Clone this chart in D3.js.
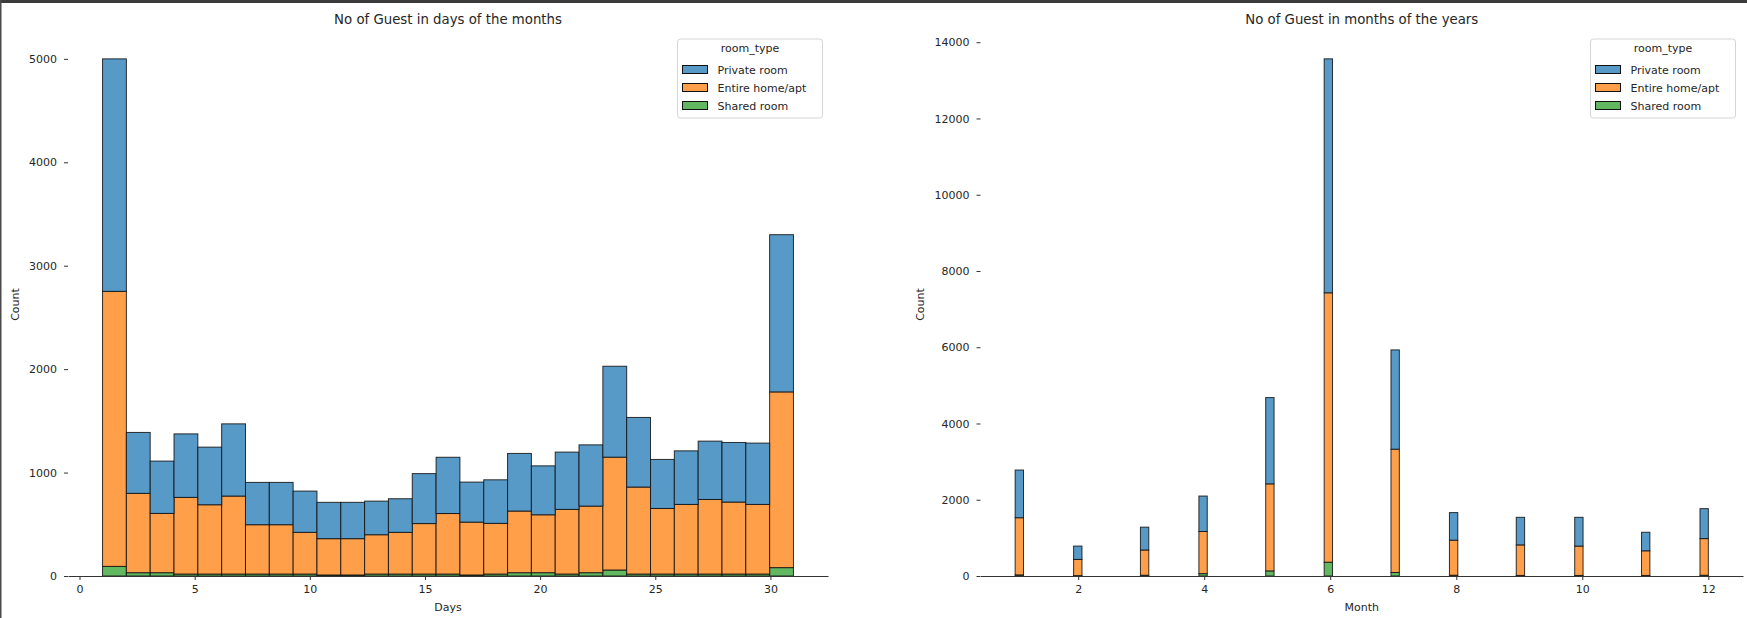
<!DOCTYPE html>
<html>
<head>
<meta charset="utf-8">
<script src="https://cdn.jsdelivr.net/npm/d3@7"></script>
<style>
  body { margin: 0; background: #fff; }
  svg { display: block; font-family: "DejaVu Sans", sans-serif; }
</style>
</head>
<body>
<svg id="chart" width="1747" height="618"></svg>
<script>
// room types, legend order (top of stack first)
const roomTypes = ["Private room", "Entire home/apt", "Shared room"];

// left panel: 29 histogram bins of day-of-month, from day 1 to day 31
const dayRange = [1, 31];
const dayBinCount = 29;
const dayPrivate = [2248, 589, 506, 614, 557, 698, 409, 409, 399, 351, 351, 325, 325, 483, 544,
                    387, 421, 557, 473, 554, 592, 879, 673, 474, 518, 564, 576, 593, 1520];
const dayEntire  = [2659, 767, 573, 741, 670, 754, 477, 477, 403, 351, 351, 380, 403, 488, 585,
                    511, 490, 596, 560, 625, 644, 1091, 841, 634, 673, 721, 696, 673, 1699];
const dayShared  = [93, 32, 32, 19, 19, 19, 19, 19, 19, 10, 10, 19, 19, 19, 19,
                    10, 19, 32, 32, 19, 32, 58, 19, 19, 19, 19, 19, 19, 81];
const dayTicksX = [0, 5, 10, 15, 20, 25, 30];
const dayTicksY = [0, 1000, 2000, 3000, 4000, 5000];

// right panel: months 1..12, histogram with 83 bins between 1 and 12
const months = [1, 2, 3, 4, 5, 6, 7, 8, 9, 10, 11, 12];
const monthRange = [1, 12];
const monthBinCount = 83;
const monthPrivate = [1250, 351, 599, 930, 2263, 6136, 2604, 723, 723, 754, 486, 786];
const monthEntire  = [1499, 424, 662, 1105, 2283, 7066, 3233, 920, 801, 770, 646, 961];
const monthShared  = [30, 10, 20, 62, 134, 362, 93, 20, 15, 15, 15, 20];
const monthTicksX = [2, 4, 6, 8, 10, 12];
const monthTicksY = [0, 2000, 4000, 6000, 8000, 10000, 12000, 14000];

const colors = {
  "Private room": "#5799c7",
  "Entire home/apt": "#ff9f4a",
  "Shared room": "#61b861"
};

const svg = d3.select("#chart");

// notebook frame
svg.append("rect").attr("x", 0).attr("y", 0).attr("width", 1747).attr("height", 3).attr("fill", "#3b3b3b");
svg.append("rect").attr("x", 0).attr("y", 0).attr("width", 1.5).attr("height", 618).attr("fill", "#4a4a4a");

const plotTop = 33, plotBottom = 576;

function drawPanel(cfg) {
  const g = svg.append("g");
  const x = d3.scaleLinear().domain(cfg.xDomain).range(cfg.xRange);
  const y = d3.scaleLinear().domain(cfg.yDomain).range([plotBottom, plotTop]);

  // stacked bars, shared at the bottom
  const stack = d3.stack().keys(["Shared room", "Entire home/apt", "Private room"]);
  const series = stack(cfg.rows);
  series.forEach(s => {
    g.append("g")
      .selectAll("rect")
      .data(s)
      .join("rect")
      .attr("x", d => x(d.data.x0))
      .attr("width", d => x(d.data.x1) - x(d.data.x0))
      .attr("y", d => y(d[1]))
      .attr("height", d => y(d[0]) - y(d[1]))
      .attr("fill", colors[s.key])
      .attr("stroke", "#111")
      .attr("stroke-width", 1)
      .attr("stroke-opacity", 0.85);
  });

  // axes
  const xa = g.append("g")
    .attr("transform", `translate(0,${plotBottom})`)
    .call(d3.axisBottom(x).tickValues(cfg.xTicks).tickFormat(d3.format("d"))
      .tickSize(4).tickSizeOuter(0).tickPadding(5));
  xa.select(".domain").attr("stroke", "#333").attr("stroke-width", 1);
  xa.selectAll(".tick line").attr("stroke", "#333");
  xa.selectAll("text").attr("font-size", 11).attr("fill", "#262626")
    .attr("font-family", "DejaVu Sans");

  const ya = g.append("g")
    .attr("transform", `translate(${cfg.xRange[0]},0)`)
    .call(d3.axisLeft(y).tickValues(cfg.yTicks).tickFormat(d3.format("d"))
      .tickSize(4).tickPadding(7));
  ya.select(".domain").remove();
  ya.selectAll(".tick line").attr("stroke", "#333");
  ya.selectAll("text").attr("font-size", 11).attr("fill", "#262626")
    .attr("font-family", "DejaVu Sans");

  const cx = (cfg.xRange[0] + cfg.xRange[1]) / 2;
  g.append("text").attr("x", cx).attr("y", 24).attr("text-anchor", "middle")
    .attr("font-size", 13.3).attr("fill", "#262626").text(cfg.title);
  g.append("text").attr("x", cx).attr("y", 611).attr("text-anchor", "middle")
    .attr("font-size", 11).attr("fill", "#262626").text(cfg.xLabel);
  g.append("text")
    .attr("transform", `translate(${cfg.yLabelX},${(plotTop + plotBottom) / 2}) rotate(-90)`)
    .attr("text-anchor", "middle").attr("font-size", 11).attr("fill", "#262626").text("Count");

  // legend
  const lg = g.append("g").attr("transform", `translate(${cfg.legendX},39)`);
  lg.append("rect").attr("width", 145).attr("height", 79).attr("rx", 3)
    .attr("fill", "#fff").attr("fill-opacity", 0.8).attr("stroke", "#d5d5d5");
  lg.append("text").attr("x", 72.5).attr("y", 13).attr("text-anchor", "middle")
    .attr("font-size", 11).attr("fill", "#262626").text("room_type");
  roomTypes.forEach((t, i) => {
    const ry = 30.5 + i * 18;
    lg.append("rect").attr("x", 5).attr("y", ry - 4).attr("width", 25).attr("height", 8)
      .attr("fill", colors[t]).attr("stroke", "#111").attr("stroke-width", 1);
    lg.append("text").attr("x", 40).attr("y", ry + 4).attr("font-size", 11)
      .attr("fill", "#262626").text(t);
  });
}

// left rows: bin edges from the histogram spec
const dayStep = (dayRange[1] - dayRange[0]) / dayBinCount;
const dayRows = dayPrivate.map((v, i) => ({
  x0: dayRange[0] + i * dayStep,
  x1: dayRange[0] + (i + 1) * dayStep,
  "Private room": v,
  "Entire home/apt": dayEntire[i],
  "Shared room": dayShared[i]
}));

// right rows: each month falls into one of the narrow bins
const monthStep = (monthRange[1] - monthRange[0]) / monthBinCount;
const monthRows = months.map((m, i) => {
  const b = Math.min(monthBinCount - 1, Math.floor((m - monthRange[0]) / monthStep));
  return {
    x0: monthRange[0] + b * monthStep,
    x1: monthRange[0] + (b + 1) * monthStep,
    "Private room": monthPrivate[i],
    "Entire home/apt": monthEntire[i],
    "Shared room": monthShared[i]
  };
});

drawPanel({
  rows: dayRows,
  xDomain: [-0.5, 32.5], xRange: [68, 828],
  yDomain: [0, 5250],
  xTicks: dayTicksX, yTicks: dayTicksY,
  title: "No of Guest in days of the months",
  xLabel: "Days", yLabelX: 18.5, legendX: 677.5
});

drawPanel({
  rows: monthRows,
  xDomain: [0.45, 12.55], xRange: [980.5, 1743],
  yDomain: [0, 14242],
  xTicks: monthTicksX, yTicks: monthTicksY,
  title: "No of Guest in months of the years",
  xLabel: "Month", yLabelX: 924, legendX: 1590.5
});
</script>
</body>
</html>
